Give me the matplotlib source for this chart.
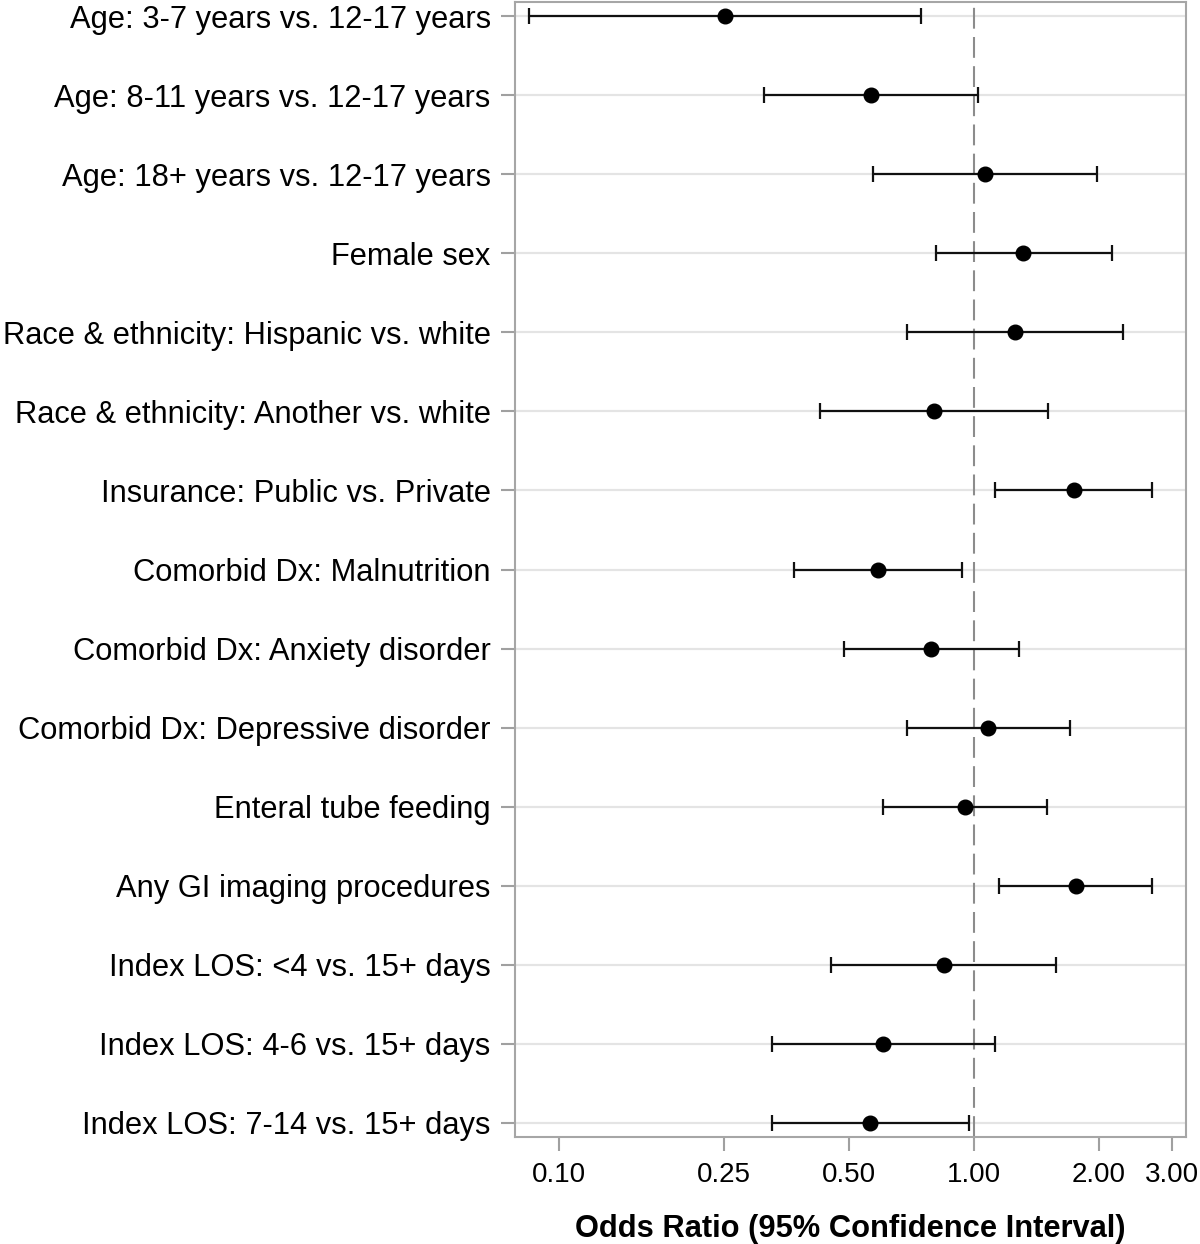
import matplotlib
matplotlib.use("Agg")
import matplotlib.pyplot as plt
from matplotlib.ticker import FixedLocator, FixedFormatter, NullLocator

plt.rcParams['font.family'] = ['Liberation Sans', 'DejaVu Sans']

labels = [
    "Age: 3-7 years vs. 12-17 years",
    "Age: 8-11 years vs. 12-17 years",
    "Age: 18+ years vs. 12-17 years",
    "Female sex",
    "Race & ethnicity: Hispanic vs. white",
    "Race & ethnicity: Another vs. white",
    "Insurance: Public vs. Private",
    "Comorbid Dx: Malnutrition",
    "Comorbid Dx: Anxiety disorder",
    "Comorbid Dx: Depressive disorder",
    "Enteral tube feeding",
    "Any GI imaging procedures",
    "Index LOS: <4 vs. 15+ days",
    "Index LOS: 4-6 vs. 15+ days",
    "Index LOS: 7-14 vs. 15+ days",
]
odds_ratio = [0.251, 0.566, 1.065, 1.315, 1.255, 0.803, 1.739, 0.587, 0.788,
              1.083, 0.951, 1.758, 0.845, 0.605, 0.562]
ci_lower = [0.0845, 0.311, 0.572, 0.810, 0.690, 0.425, 1.126, 0.368, 0.486,
            0.690, 0.603, 1.151, 0.452, 0.326, 0.326]
ci_upper = [0.744, 1.022, 1.983, 2.147, 2.282, 1.508, 2.685, 0.934, 1.281,
            1.707, 1.500, 2.685, 1.580, 1.122, 0.973]
x_ticks = [0.10, 0.25, 0.50, 1.00, 2.00, 3.00]
x_ticklabels = ["0.10", "0.25", "0.50", "1.00", "2.00", "3.00"]

fig = plt.figure(figsize=(12, 12.44), dpi=100)
ax = fig.add_axes([515/1200, 107/1244, (1186-515)/1200, (1242-107)/1244])

ypos = list(range(len(labels)))
ax.set_xscale('log')
ax.set_xlim(0.0783, 3.242)
ax.set_ylim(len(labels) - 1 + 0.18, -0.18)

for y in ypos:
    ax.axhline(y, color='#e4e4e4', lw=1.6, zorder=0)
ax.axvline(1.0, color='#8c8c8c', lw=1.5, linestyle=(0, (10, 4)), zorder=1)

err_lo = [o - l for o, l in zip(odds_ratio, ci_lower)]
err_hi = [u - o for o, u in zip(odds_ratio, ci_upper)]
ax.errorbar(odds_ratio, ypos, xerr=[err_lo, err_hi], fmt='o', color='black',
            ecolor='#111111', elinewidth=1.6, capsize=6, capthick=1.6,
            markersize=10.5, zorder=3)

ax.yaxis.set_major_locator(FixedLocator(ypos))
ax.set_yticklabels(labels, fontsize=22.2)
ax.xaxis.set_major_locator(FixedLocator(x_ticks))
ax.xaxis.set_major_formatter(FixedFormatter(x_ticklabels))
ax.xaxis.set_minor_locator(NullLocator())
ax.tick_params(axis='x', labelsize=20, length=10, width=1.5, color='#a0a0a0', pad=8)
ax.tick_params(axis='y', length=10, width=1.5, color='#a0a0a0', pad=7.5)

for s in ax.spines.values():
    s.set_color('#a6a6a6')
    s.set_linewidth(1.5)

ax.set_xlabel("Odds Ratio (95% Confidence Interval)", fontsize=22.2,
              fontweight='bold', labelpad=19)

fig.savefig("out.png", dpi=100)
